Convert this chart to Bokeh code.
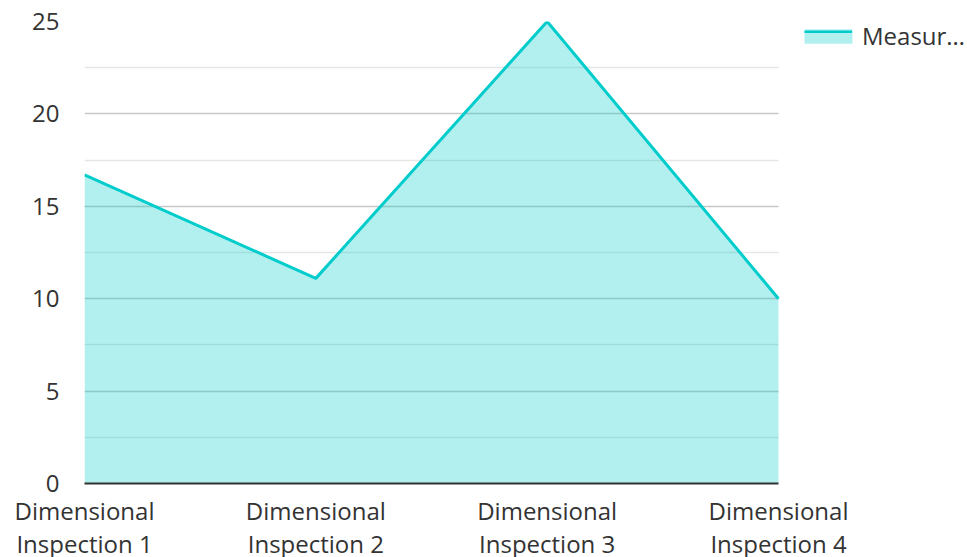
from bokeh.plotting import figure
from bokeh.models import Legend, LegendItem, FixedTicker, Range1d
from bokeh.embed import file_html
from bokeh.resources import INLINE

categories = ["Dimensional\nInspection 1", "Dimensional\nInspection 2",
              "Dimensional\nInspection 3", "Dimensional\nInspection 4"]
values = [16.7, 11.1, 25.0, 10.0]
y_ticks = [0, 5, 10, 15, 20, 25]
series_name = "Measur…"

xs = list(range(len(categories)))
last = len(categories) - 1

FONT = "Open Sans"
TEXT = "#333333"
FS = "24px"
LINE_C = "#00cccc"

PLOT_W = 694      # width of the data area that holds the categories
FRAME_W = 883     # frame extended to the right edge so the legend sits inside it

p = figure(width=967, height=557, output_backend="svg", toolbar_location=None,
           x_range=Range1d(0, last * FRAME_W / PLOT_W), y_range=Range1d(0, 25),
           frame_width=FRAME_W, frame_height=462,
           min_border_left=84, min_border_right=0, min_border_top=21, min_border_bottom=74)
p.outline_line_color = None
p.background_fill_color = "white"
p.border_fill_color = "white"

area = p.varea(x=xs, y1=[0] * len(xs), y2=values, fill_color=LINE_C, fill_alpha=0.3)
line = p.line(x=xs, y=values, line_color=LINE_C, line_width=3)

# x axis
p.xaxis.bounds = (0, last)
p.xaxis.ticker = FixedTicker(ticks=xs)
p.xaxis.major_label_overrides = {i: c for i, c in zip(xs, categories)}
p.xaxis.axis_line_color = TEXT
p.xaxis.axis_line_width = 2
p.xaxis.major_tick_line_color = None
p.xaxis.minor_tick_line_color = None
p.xaxis.major_tick_out = 0
p.xaxis.minor_tick_out = 0
p.xaxis.major_label_text_font = FONT
p.xaxis.major_label_text_font_size = FS
p.xaxis.major_label_text_color = TEXT
p.xaxis.major_label_text_line_height = 1.0
p.xaxis.major_label_standoff = 10

# y axis
p.yaxis.ticker = FixedTicker(ticks=y_ticks, minor_ticks=[2.5, 7.5, 12.5, 17.5, 22.5])
p.yaxis.axis_line_color = None
p.yaxis.major_tick_line_color = None
p.yaxis.minor_tick_line_color = None
p.yaxis.major_tick_out = 0
p.yaxis.minor_tick_out = 0
p.yaxis.major_label_text_font = FONT
p.yaxis.major_label_text_font_size = FS
p.yaxis.major_label_text_color = TEXT
p.yaxis.major_label_standoff = 25

p.xgrid.grid_line_color = None
p.ygrid.cross_bounds = (0, last)
p.ygrid.grid_line_color = "#c8c8c8"
p.ygrid.grid_line_width = 1.5
p.ygrid.minor_grid_line_color = "#e6e6e6"
p.ygrid.minor_grid_line_width = 1.5

# legend: filled swatch with label
legend_fill = Legend(items=[LegendItem(label=series_name, renderers=[area])],
                     location=(714, 431), padding=0, margin=0, spacing=0,
                     glyph_width=60, glyph_height=18, label_standoff=4,
                     border_line_color=None, background_fill_alpha=0,
                     label_text_font=FONT, label_text_font_size=FS, label_text_color=TEXT)
# legend: line stroke along the top edge of the swatch
legend_line = Legend(items=[LegendItem(label=" ", renderers=[line])],
                     location=(720, 450), padding=0, margin=0, spacing=0,
                     glyph_width=48, glyph_height=3, label_standoff=0,
                     border_line_color=None, background_fill_alpha=0,
                     label_text_font=FONT, label_text_font_size="1px")
p.add_layout(legend_fill, "center")
p.add_layout(legend_line, "center")

open("out.html", "w").write(file_html(p, INLINE))
